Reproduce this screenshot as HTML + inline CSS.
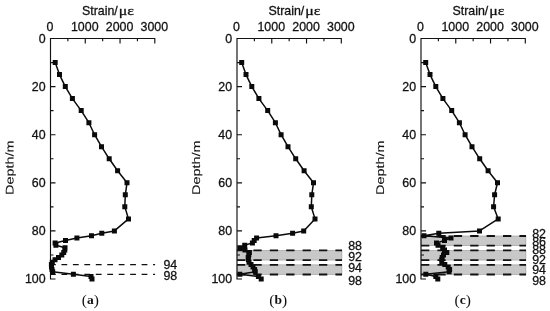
<!DOCTYPE html>
<html lang="en"><head><meta charset="utf-8"><title>Strain vs depth</title>
<style>html,body{margin:0;padding:0;background:#fff}body{width:550px;height:311px;overflow:hidden}svg{display:block}.t{font-family:"Liberation Sans",Arial,sans-serif;font-size:12.4px;fill:#111;stroke:#111;stroke-width:.28px}.g{font-family:"Liberation Serif","DejaVu Serif",serif;font-size:13.5px}.c{font-family:"Liberation Serif","DejaVu Serif",serif;font-size:13.5px;fill:#111}</style></head><body>
<svg width="550" height="311" viewBox="0 0 550 311">
<rect width="550" height="311" fill="#fff"/>
<g>
<text class="t" x="82.00" y="14.6">Strain/</text>
<text class="t g" x="118.70" y="14.6" textLength="15.2" stroke="#111" stroke-width="0.1" lengthAdjust="spacingAndGlyphs">με</text>
<text class="t" x="50.00" y="31.1" text-anchor="middle">0</text>
<text class="t" x="84.77" y="31.1" text-anchor="middle">1000</text>
<text class="t" x="119.54" y="31.1" text-anchor="middle">2000</text>
<text class="t" x="154.31" y="31.1" text-anchor="middle">3000</text>
<path d="M50.50 279.50V38.50H155.31M154.81 38.50v5M67.89 38.50v2.8M85.27 38.50v5M102.66 38.50v2.8M120.04 38.50v5M137.43 38.50v2.8M154.81 38.50v5M50.50 62.55h3M50.50 86.60h5M50.50 110.65h3M50.50 134.70h5M50.50 158.75h3M50.50 182.80h5M50.50 206.85h3M50.50 230.90h5M50.50 254.95h3M50.50 279.00h5" fill="none" stroke="#111" stroke-width="1.15"/>
<text class="t" x="45.60" y="42.60" text-anchor="end">0</text>
<text class="t" x="45.60" y="90.70" text-anchor="end">20</text>
<text class="t" x="45.60" y="138.80" text-anchor="end">40</text>
<text class="t" x="45.60" y="186.90" text-anchor="end">60</text>
<text class="t" x="45.60" y="235.00" text-anchor="end">80</text>
<text class="t" x="45.60" y="283.10" text-anchor="end">100</text>
<text class="t" transform="translate(13.40 195.0) rotate(-89.9)" textLength="54.6" stroke="#111" stroke-width="0.1" lengthAdjust="spacingAndGlyphs" style="font-size:11.2px;stroke-width:.08px;text-rendering:geometricPrecision">Depth/m</text>
<path d="M50.00 264.7H155.11" stroke="#111" stroke-width="1.25" stroke-dasharray="5.8 5.65" fill="none"/>
<path d="M50.00 274.3H155.11" stroke="#111" stroke-width="1.25" stroke-dasharray="5.8 5.65" fill="none"/>
<polyline fill="none" stroke="#0a0a0a" stroke-width="1.5" stroke-linejoin="round" points="55.2,62.5 59.5,74.6 65.3,86.6 72.4,98.6 81.2,110.6 88.9,122.7 94.6,134.7 101.5,146.7 109.2,158.8 117.6,170.8 127.0,182.8 125.3,194.8 124.8,206.8 128.5,218.9 114.4,230.9 101.8,233.3 91.5,235.7 76.9,238.1 65.5,240.5 55.1,242.9 55.9,245.3 65.0,247.7 64.8,250.1 63.7,252.5 61.8,254.9 58.5,257.4 55.0,259.8 52.3,262.2 51.4,264.6 51.5,267.0 52.0,269.4 52.7,271.8 73.4,274.2 91.0,276.6 92.0,279.0"/>
<path d="M52.7 60.0h5v5h-5zM57.0 72.1h5v5h-5zM62.8 84.1h5v5h-5zM69.9 96.1h5v5h-5zM78.7 108.1h5v5h-5zM86.4 120.2h5v5h-5zM92.1 132.2h5v5h-5zM99.0 144.2h5v5h-5zM106.7 156.2h5v5h-5zM115.1 168.3h5v5h-5zM124.5 180.3h5v5h-5zM122.8 192.3h5v5h-5zM122.3 204.3h5v5h-5zM126.0 216.4h5v5h-5zM111.9 228.4h5v5h-5zM99.3 230.8h5v5h-5zM89.0 233.2h5v5h-5zM74.4 235.6h5v5h-5zM63.0 238.0h5v5h-5zM52.6 240.4h5v5h-5zM53.4 242.8h5v5h-5zM62.5 245.2h5v5h-5zM62.3 247.6h5v5h-5zM61.2 250.0h5v5h-5zM59.3 252.4h5v5h-5zM56.0 254.9h5v5h-5zM52.5 257.3h5v5h-5zM49.8 259.7h5v5h-5zM48.9 262.1h5v5h-5zM49.0 264.5h5v5h-5zM49.5 266.9h5v5h-5zM50.2 269.3h5v5h-5zM70.9 271.7h5v5h-5zM88.5 274.1h5v5h-5zM89.5 276.5h5v5h-5z" fill="#0a0a0a"/>
<text class="t" x="163.40" y="269.00">94</text>
<text class="t" x="163.40" y="280.20">98</text>
<text class="c" x="90.30" y="304.3" text-anchor="middle"><tspan font-size="15.5" dy="0.7">(</tspan><tspan font-weight="bold" dy="-0.7">a</tspan><tspan font-size="15.5" dy="0.7">)</tspan></text>
</g>
<g>
<rect x="237.00" y="250.44" width="104.91" height="9.62" fill="#c8c8c8" stroke="#9a9a9a" stroke-width="0.6"/>
<rect x="237.00" y="264.87" width="104.91" height="9.62" fill="#c8c8c8" stroke="#9a9a9a" stroke-width="0.6"/>
<text class="t" x="268.50" y="14.6">Strain/</text>
<text class="t g" x="305.20" y="14.6" textLength="15.2" stroke="#111" stroke-width="0.1" lengthAdjust="spacingAndGlyphs">με</text>
<text class="t" x="236.50" y="31.1" text-anchor="middle">0</text>
<text class="t" x="271.27" y="31.1" text-anchor="middle">1000</text>
<text class="t" x="306.04" y="31.1" text-anchor="middle">2000</text>
<text class="t" x="340.81" y="31.1" text-anchor="middle">3000</text>
<path d="M237.00 279.50V38.50H341.81M341.31 38.50v5M254.38 38.50v2.8M271.77 38.50v5M289.15 38.50v2.8M306.54 38.50v5M323.93 38.50v2.8M341.31 38.50v5M237.00 62.55h3M237.00 86.60h5M237.00 110.65h3M237.00 134.70h5M237.00 158.75h3M237.00 182.80h5M237.00 206.85h3M237.00 230.90h5M237.00 254.95h3M237.00 279.00h5" fill="none" stroke="#111" stroke-width="1.15"/>
<text class="t" x="232.10" y="42.60" text-anchor="end">0</text>
<text class="t" x="232.10" y="90.70" text-anchor="end">20</text>
<text class="t" x="232.10" y="138.80" text-anchor="end">40</text>
<text class="t" x="232.10" y="186.90" text-anchor="end">60</text>
<text class="t" x="232.10" y="235.00" text-anchor="end">80</text>
<text class="t" x="232.10" y="283.10" text-anchor="end">100</text>
<text class="t" transform="translate(199.90 195.0) rotate(-89.9)" textLength="54.6" stroke="#111" stroke-width="0.1" lengthAdjust="spacingAndGlyphs" style="font-size:11.2px;stroke-width:.08px;text-rendering:geometricPrecision">Depth/m</text>
<path d="M237.00 250.44H342.01" stroke="#111" stroke-width="1.8" stroke-dasharray="8.3 8.1" fill="none"/>
<path d="M237.00 260.06H342.01" stroke="#111" stroke-width="1.8" stroke-dasharray="8.3 8.1" fill="none"/>
<path d="M237.00 264.87H342.01" stroke="#111" stroke-width="1.8" stroke-dasharray="8.3 8.1" fill="none"/>
<path d="M237.00 274.49H342.01" stroke="#111" stroke-width="1.8" stroke-dasharray="8.3 8.1" fill="none"/>
<polyline fill="none" stroke="#0a0a0a" stroke-width="1.5" stroke-linejoin="round" points="241.7,62.5 246.0,74.6 251.8,86.6 258.9,98.6 267.7,110.6 275.4,122.7 281.1,134.7 288.0,146.7 295.7,158.8 304.1,170.8 313.5,182.8 311.8,194.8 311.3,206.8 315.0,218.9 303.7,230.9 292.6,233.3 276.0,235.7 256.6,238.1 254.2,240.5 252.4,242.9 244.7,245.3 239.8,247.7 245.0,250.1 249.4,252.5 248.8,254.9 248.2,257.4 248.4,259.8 249.0,262.2 251.0,264.6 253.0,267.0 254.6,269.4 255.3,271.8 239.9,274.2 258.4,276.6 261.2,279.0"/>
<path d="M239.2 60.0h5v5h-5zM243.5 72.1h5v5h-5zM249.3 84.1h5v5h-5zM256.4 96.1h5v5h-5zM265.2 108.1h5v5h-5zM272.9 120.2h5v5h-5zM278.6 132.2h5v5h-5zM285.5 144.2h5v5h-5zM293.2 156.2h5v5h-5zM301.6 168.3h5v5h-5zM311.0 180.3h5v5h-5zM309.3 192.3h5v5h-5zM308.8 204.3h5v5h-5zM312.5 216.4h5v5h-5zM301.2 228.4h5v5h-5zM290.1 230.8h5v5h-5zM273.5 233.2h5v5h-5zM254.1 235.6h5v5h-5zM251.7 238.0h5v5h-5zM249.9 240.4h5v5h-5zM242.2 242.8h5v5h-5zM237.3 245.2h5v5h-5zM242.5 247.6h5v5h-5zM246.9 250.0h5v5h-5zM246.3 252.4h5v5h-5zM245.7 254.9h5v5h-5zM245.9 257.3h5v5h-5zM246.5 259.7h5v5h-5zM248.5 262.1h5v5h-5zM250.5 264.5h5v5h-5zM252.1 266.9h5v5h-5zM252.8 269.3h5v5h-5zM237.4 271.7h5v5h-5zM255.9 274.1h5v5h-5zM258.7 276.5h5v5h-5z" fill="#0a0a0a"/>
<text class="t" x="348.20" y="249.50">88</text>
<text class="t" x="348.20" y="261.00">92</text>
<text class="t" x="348.20" y="272.00">94</text>
<text class="t" x="348.20" y="285.00">98</text>
<text class="c" x="278.30" y="304.3" text-anchor="middle"><tspan font-size="15.5" dy="0.7">(</tspan><tspan font-weight="bold" dy="-0.7">b</tspan><tspan font-size="15.5" dy="0.7">)</tspan></text>
</g>
<g>
<rect x="421.00" y="236.01" width="104.91" height="9.62" fill="#c8c8c8" stroke="#9a9a9a" stroke-width="0.6"/>
<rect x="421.00" y="250.44" width="104.91" height="9.62" fill="#c8c8c8" stroke="#9a9a9a" stroke-width="0.6"/>
<rect x="421.00" y="264.87" width="104.91" height="9.62" fill="#c8c8c8" stroke="#9a9a9a" stroke-width="0.6"/>
<text class="t" x="452.50" y="14.6">Strain/</text>
<text class="t g" x="489.20" y="14.6" textLength="15.2" stroke="#111" stroke-width="0.1" lengthAdjust="spacingAndGlyphs">με</text>
<text class="t" x="420.50" y="31.1" text-anchor="middle">0</text>
<text class="t" x="455.27" y="31.1" text-anchor="middle">1000</text>
<text class="t" x="490.04" y="31.1" text-anchor="middle">2000</text>
<text class="t" x="524.81" y="31.1" text-anchor="middle">3000</text>
<path d="M421.00 279.50V38.50H525.81M525.31 38.50v5M438.38 38.50v2.8M455.77 38.50v5M473.15 38.50v2.8M490.54 38.50v5M507.93 38.50v2.8M525.31 38.50v5M421.00 62.55h3M421.00 86.60h5M421.00 110.65h3M421.00 134.70h5M421.00 158.75h3M421.00 182.80h5M421.00 206.85h3M421.00 230.90h5M421.00 254.95h3M421.00 279.00h5" fill="none" stroke="#111" stroke-width="1.15"/>
<text class="t" x="416.10" y="42.60" text-anchor="end">0</text>
<text class="t" x="416.10" y="90.70" text-anchor="end">20</text>
<text class="t" x="416.10" y="138.80" text-anchor="end">40</text>
<text class="t" x="416.10" y="186.90" text-anchor="end">60</text>
<text class="t" x="416.10" y="235.00" text-anchor="end">80</text>
<text class="t" x="416.10" y="283.10" text-anchor="end">100</text>
<text class="t" transform="translate(383.90 195.0) rotate(-89.9)" textLength="54.6" stroke="#111" stroke-width="0.1" lengthAdjust="spacingAndGlyphs" style="font-size:11.2px;stroke-width:.08px;text-rendering:geometricPrecision">Depth/m</text>
<path d="M421.00 236.01H526.01" stroke="#111" stroke-width="1.8" stroke-dasharray="8.3 8.1" fill="none"/>
<path d="M421.00 245.63H526.01" stroke="#111" stroke-width="1.8" stroke-dasharray="8.3 8.1" fill="none"/>
<path d="M421.00 250.44H526.01" stroke="#111" stroke-width="1.8" stroke-dasharray="8.3 8.1" fill="none"/>
<path d="M421.00 260.06H526.01" stroke="#111" stroke-width="1.8" stroke-dasharray="8.3 8.1" fill="none"/>
<path d="M421.00 264.87H526.01" stroke="#111" stroke-width="1.8" stroke-dasharray="8.3 8.1" fill="none"/>
<path d="M421.00 274.49H526.01" stroke="#111" stroke-width="1.8" stroke-dasharray="8.3 8.1" fill="none"/>
<polyline fill="none" stroke="#0a0a0a" stroke-width="1.5" stroke-linejoin="round" points="425.7,62.5 430.0,74.6 435.8,86.6 442.9,98.6 451.7,110.6 459.4,122.7 465.1,134.7 472.0,146.7 479.7,158.8 488.1,170.8 497.5,182.8 494.6,194.8 493.6,206.8 498.2,218.9 479.5,230.9 438.8,233.3 424.0,235.7 451.0,238.1 444.5,240.5 436.5,242.9 438.0,245.3 442.7,247.7 444.5,250.1 446.8,252.5 443.5,254.9 442.2,257.4 441.7,259.8 441.8,262.2 444.8,264.6 448.2,267.0 449.6,269.4 449.1,271.8 425.8,274.2 435.8,276.6 437.8,279.0"/>
<path d="M423.2 60.0h5v5h-5zM427.5 72.1h5v5h-5zM433.3 84.1h5v5h-5zM440.4 96.1h5v5h-5zM449.2 108.1h5v5h-5zM456.9 120.2h5v5h-5zM462.6 132.2h5v5h-5zM469.5 144.2h5v5h-5zM477.2 156.2h5v5h-5zM485.6 168.3h5v5h-5zM495.0 180.3h5v5h-5zM492.1 192.3h5v5h-5zM491.1 204.3h5v5h-5zM495.7 216.4h5v5h-5zM477.0 228.4h5v5h-5zM436.3 230.8h5v5h-5zM421.5 233.2h5v5h-5zM448.5 235.6h5v5h-5zM442.0 238.0h5v5h-5zM434.0 240.4h5v5h-5zM435.5 242.8h5v5h-5zM440.2 245.2h5v5h-5zM442.0 247.6h5v5h-5zM444.3 250.0h5v5h-5zM441.0 252.4h5v5h-5zM439.7 254.9h5v5h-5zM439.2 257.3h5v5h-5zM439.3 259.7h5v5h-5zM442.3 262.1h5v5h-5zM445.7 264.5h5v5h-5zM447.1 266.9h5v5h-5zM446.6 269.3h5v5h-5zM423.3 271.7h5v5h-5zM433.3 274.1h5v5h-5zM435.3 276.5h5v5h-5z" fill="#0a0a0a"/>
<text class="t" x="532.20" y="237.60">82</text>
<text class="t" x="532.20" y="245.60">86</text>
<text class="t" x="532.20" y="253.50">88</text>
<text class="t" x="532.20" y="264.00">92</text>
<text class="t" x="532.20" y="274.00">94</text>
<text class="t" x="532.20" y="285.00">98</text>
<text class="c" x="462.70" y="304.3" text-anchor="middle"><tspan font-size="15.5" dy="0.7">(</tspan><tspan font-weight="bold" dy="-0.7">c</tspan><tspan font-size="15.5" dy="0.7">)</tspan></text>
</g>
</svg></body></html>
